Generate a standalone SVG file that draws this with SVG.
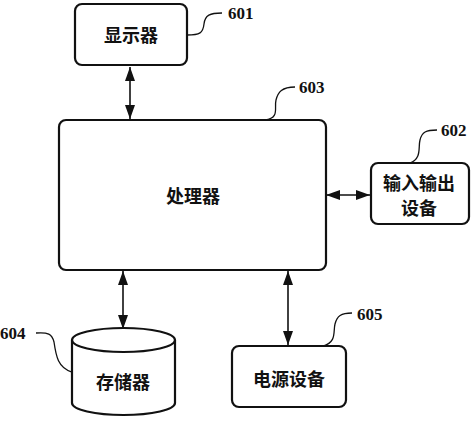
<svg xmlns="http://www.w3.org/2000/svg" width="474" height="421" viewBox="0 0 474 421">
<style>
.box{fill:#fff;stroke:#111;stroke-width:2.2}
.t{font-family:"Noto Sans CJK SC","Noto Sans CJK JP",sans-serif;font-size:18px;font-weight:bold;fill:#111;text-anchor:middle;dominant-baseline:central}
.n{font-family:"Liberation Serif",serif;font-size:17px;font-weight:bold;fill:#111}
.lead{fill:none;stroke:#111;stroke-width:1.3}
.conn{stroke:#111;stroke-width:1.6;fill:none;marker-start:url(#ah);marker-end:url(#ah)}
</style>
<defs>
<marker id="ah" viewBox="0 0 14 10" refX="14" refY="5" markerWidth="14" markerHeight="10" markerUnits="userSpaceOnUse" orient="auto-start-reverse">
<path d="M0,0 L14,5 L0,10 Z" fill="#111"/>
</marker>
</defs>
<rect width="474" height="421" fill="#fff"/>
<g id="connectors">
<line class="conn" x1="130" y1="67" x2="130" y2="119"/>
<line class="conn" x1="326" y1="195" x2="370" y2="195"/>
<line class="conn" x1="123" y1="271" x2="123" y2="329"/>
<line class="conn" x1="288" y1="271" x2="288" y2="345"/>
</g>
<g id="n601">
<rect class="box" x="75" y="4" width="112" height="61" rx="7"/>
<text class="t" x="131" y="34">显示器</text>
<path class="lead" d="M187,35 C200,35 203,33 204,24 C205,15 210,13 222,13"/>
<text class="n" x="228" y="19">601</text>
</g>
<g id="n603">
<rect class="box" x="59" y="120" width="267" height="150" rx="7"/>
<text class="t" x="193" y="195">处理器</text>
<path class="lead" d="M265,120 C280,118 274,108 276,100 C278,92 282,87 295,87"/>
<text class="n" x="299" y="93">603</text>
</g>
<g id="n602">
<rect class="box" x="371" y="163" width="98" height="61" rx="7"/>
<text class="t" x="419" y="182">输入输出</text>
<text class="t" x="419" y="207">设备</text>
<path class="lead" d="M410,163 C422,158 418,148 420,140 C422,132 426,130 437,130"/>
<text class="n" x="441" y="136">602</text>
</g>
<g id="n604">
<path class="box" d="M72,340 L72,403 A51.5,12 0 0 0 175,403 L175,340"/>
<ellipse class="box" cx="123.5" cy="340" rx="51.5" ry="12"/>
<text class="t" x="123" y="381">存储器</text>
<path class="lead" d="M36,333 C48,332 52,334 54,342 C56,356 58,368 72,372"/>
<text class="n" x="0" y="339">604</text>
</g>
<g id="n605">
<rect class="box" x="232" y="346" width="114" height="61" rx="7"/>
<text class="t" x="289" y="378">电源设备</text>
<path class="lead" d="M323,346 C337,342 333,332 335,324 C337,316 341,313 352,313"/>
<text class="n" x="357" y="320">605</text>
</g>
</svg>
